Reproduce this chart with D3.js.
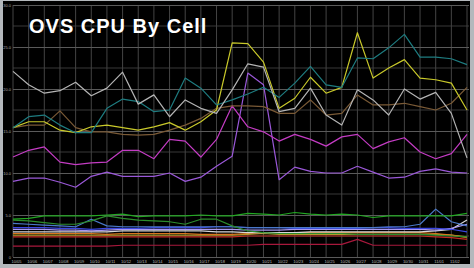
<!DOCTYPE html>
<html>
<head>
<meta charset="utf-8">
<script src="https://cdn.jsdelivr.net/npm/d3@7"></script>
<style>
  html, body { margin: 0; padding: 0; background: #b4b8bc; }
  #chart { width: 474px; height: 268px; }
  text { font-family: 'Liberation Sans', Arial, sans-serif; }
</style>
</head>
<body>
<div id="chart"></div>
<script>
// tick labels along the bottom (one per sample)
const dates = ['10/05', '10/06', '10/07', '10/08', '10/09', '10/10', '10/11', '10/12',
  '10/13', '10/14', '10/15', '10/16', '10/17', '10/18', '10/19', '10/20', '10/21',
  '10/22', '10/23', '10/24', '10/25', '10/26', '10/27', '10/28', '10/29', '10/30',
  '10/31', '11/01', '11/02', '11/03']
const yTicks = [0, 5, 10, 15, 20, 25, 30]

// cells (CPU %)
const gray = [22.1, 20.5, 19.5, 19.8, 20.8, 19.2, 20.1, 22.0, 18.2, 19.3, 16.7, 18.7, 17.7, 17.1, 19.9,
  23.0, 22.6, 17.3, 17.7, 20.1, 16.9, 15.7, 19.9, 18.7, 16.9, 20.0, 18.8, 19.6, 17.1, 11.8]
const teal = [15.4, 16.7, 16.9, 15.7, 14.8, 14.8, 17.7, 18.8, 18.5, 17.3, 17.5, 21.3, 20.1, 18.1, 18.7,
  19.4, 20.2, 19.0, 20.7, 22.7, 20.5, 20.2, 23.7, 23.6, 24.9, 26.5, 23.8, 23.8, 23.6, 22.9]
const yellow = [15.4, 16.1, 16.1, 15.1, 14.8, 15.5, 15.7, 15.4, 15.1, 15.5, 16.0, 15.1, 16.1, 17.5, 25.5,
  25.4, 23.2, 17.7, 18.9, 21.4, 19.5, 20.2, 26.7, 21.3, 22.5, 23.5, 21.3, 21.1, 20.7, 17.5]
const brown = [15.4, 15.7, 15.7, 17.4, 15.4, 14.9, 14.9, 14.6, 14.5, 14.6, 15.1, 15.7, 16.5, 17.7, 18.0,
  18.0, 17.9, 17.1, 17.1, 18.7, 16.9, 17.1, 19.3, 18.1, 18.1, 18.3, 17.9, 17.5, 18.3, 20.2]
const magenta = [11.9, 12.7, 13.1, 11.3, 11.0, 11.2, 11.3, 12.7, 12.7, 11.7, 14.0, 13.8, 11.9, 14.0, 18.0,
  15.5, 14.9, 13.8, 14.6, 14.0, 13.2, 14.3, 14.6, 12.9, 13.7, 14.2, 12.5, 11.7, 12.3, 14.6]
const purple = [9.0, 9.4, 9.4, 8.9, 8.3, 9.6, 10.1, 9.6, 9.6, 9.6, 10.0, 9.0, 9.5, 10.8, 12.0,
  21.9, 20.5, 9.2, 10.7, 10.2, 10.0, 10.0, 10.8, 10.1, 9.4, 9.5, 10.2, 10.5, 10.1, 10.0]
const green = [4.5, 4.6, 4.9, 4.9, 4.9, 4.9, 5.0, 5.1, 4.8, 4.9, 4.9, 4.9, 5.0, 4.9, 4.9,
  5.2, 5.1, 5.0, 5.3, 5.1, 5.0, 5.1, 5.0, 4.7, 4.9, 4.9, 4.9, 4.9, 4.9, 5.2]
const darkGreen = [4.4, 4.3, 4.1, 3.9, 3.9, 4.3, 4.9, 4.6, 4.4, 4.3, 4.2, 3.9, 4.5, 4.5, 3.7,
  3.1, 2.9, 2.8, 2.8, 2.8, 2.8, 2.8, 2.7, 2.7, 2.7, 2.7, 2.7, 2.6, 2.5, 2.4]
const steel = [4.0, 3.9, 3.8, 3.7, 3.6, 4.5, 3.7, 3.6, 3.6, 3.6, 3.6, 3.6, 3.6, 3.6, 3.6,
  3.5, 3.5, 3.5, 3.5, 3.5, 3.5, 3.5, 3.5, 3.5, 3.6, 3.6, 3.9, 5.7, 4.2, 3.7]
const blue = [3.5, 3.5, 3.5, 3.4, 3.4, 3.3, 3.4, 3.4, 3.4, 3.5, 3.5, 3.5, 3.5, 3.6, 3.6,
  3.5, 3.5, 3.5, 3.4, 3.4, 3.4, 3.4, 3.4, 3.5, 3.5, 3.4, 3.4, 3.4, 3.3, 3.0]
const lavender = [3.3, 3.3, 3.3, 3.2, 3.2, 3.1, 3.2, 3.3, 3.3, 3.3, 3.3, 3.3, 3.3, 3.3, 3.3,
  3.2, 3.2, 3.2, 3.3, 3.3, 3.3, 3.3, 3.3, 3.3, 3.3, 3.3, 3.3, 3.2, 3.4, 3.9]
const white = [3.0, 3.0, 3.0, 3.0, 3.0, 3.0, 3.0, 3.1, 3.1, 3.1, 3.1, 3.1, 3.1, 3.0, 3.0,
  2.9, 2.9, 2.9, 2.9, 3.0, 3.0, 3.0, 3.0, 3.0, 3.0, 3.0, 3.0, 3.1, 3.3, 4.4]
const orange = [2.8, 2.8, 2.8, 2.8, 2.8, 2.8, 2.7, 2.8, 2.8, 2.8, 2.8, 2.8, 2.7, 2.7, 2.7,
  2.8, 2.9, 2.9, 2.9, 2.9, 2.9, 2.9, 2.9, 2.9, 2.9, 2.9, 2.9, 2.8, 2.6, 2.3]
const olive = [2.6, 2.6, 2.6, 2.6, 2.6, 2.6, 2.6, 2.6, 2.6, 2.6, 2.6, 2.6, 2.6, 2.6, 2.6,
  2.7, 2.8, 2.7, 2.7, 2.7, 2.7, 2.7, 2.7, 2.7, 2.7, 2.7, 2.7, 2.7, 2.6, 2.4]
const red = [2.4, 2.4, 2.4, 2.4, 2.4, 2.4, 2.4, 2.4, 2.4, 2.4, 2.4, 2.4, 2.4, 2.4, 2.4,
  2.5, 2.5, 2.5, 2.5, 2.5, 2.5, 2.5, 2.5, 2.5, 2.5, 2.5, 2.5, 2.4, 2.3, 2.1]
const crimson = [1.3, 1.3, 1.3, 1.3, 1.3, 1.3, 1.3, 1.4, 1.4, 1.4, 1.4, 1.4, 1.4, 1.4, 1.4,
  1.4, 1.5, 1.5, 1.5, 1.5, 1.5, 1.5, 2.1, 1.4, 1.4, 1.4, 1.4, 1.4, 1.4, 1.4]

const series = [
  { values: crimson, color: '#a8183c' },
  { values: red, color: '#c42a22' },
  { values: olive, color: '#b09a2a' },
  { values: orange, color: '#d9761e' },
  { values: white, color: '#d8d8d8' },
  { values: lavender, color: '#a898f0' },
  { values: blue, color: '#3a46e0' },
  { values: steel, color: '#4a78c8' },
  { values: darkGreen, color: '#2c8c2c' },
  { values: green, color: '#22a822' },
  { values: purple, color: '#9a58d8' },
  { values: magenta, color: '#c43cc4' },
  { values: brown, color: '#7a5a36' },
  { values: yellow, color: '#c8c82a' },
  { values: teal, color: '#1e7c80' },
  { values: gray, color: '#b4b4b4' }
]

const W = 474
const H = 268

const svg = d3.select('#chart')
  .append('svg')
  .attr('width', W)
  .attr('height', H)

// black screen inside the gray frame
svg.append('rect')
  .attr('x', 3).attr('y', 1)
  .attr('width', 467).attr('height', 263)
  .attr('fill', '#000')

const xScale = d3.scaleLinear().domain([0, dates.length - 1]).range([13, 467])
const yScale = d3.scaleLinear().domain([0, 30]).range([257, 5])

// minor horizontal grid every 2.5
svg.append('g')
  .selectAll('line')
  .data(d3.range(2.5, 30, 5))
  .enter()
  .append('line')
  .attr('x1', 13).attr('x2', 469)
  .attr('y1', d => yScale(d)).attr('y2', d => yScale(d))
  .attr('stroke', '#383838')
  .attr('stroke-width', 1)

// vertical grid
svg.append('g')
  .selectAll('line')
  .data(dates)
  .enter()
  .append('line')
  .attr('x1', (d, i) => xScale(i)).attr('x2', (d, i) => xScale(i))
  .attr('y1', 5).attr('y2', 257)
  .attr('stroke', '#444')
  .attr('stroke-width', 1)

// y axis with major grid
const yAxis = d3.axisLeft(yScale)
  .tickValues(yTicks)
  .tickSize(-456)
  .tickPadding(2)
  .tickFormat(d => d === 0 ? '0' : d3.format('.1f')(d))

svg.append('g')
  .attr('class', 'y-axis')
  .attr('transform', 'translate(13,0)')
  .call(yAxis)

svg.select('.y-axis .domain').remove()
svg.selectAll('.y-axis line').attr('stroke', '#5a5a5a')
svg.selectAll('.y-axis text')
  .attr('fill', '#aaa')
  .attr('font-size', '4px')

// x labels
const xAxis = d3.axisBottom(xScale)
  .tickValues(d3.range(dates.length - 1))
  .tickSize(0)
  .tickPadding(3)
  .tickFormat(i => dates[i])

svg.append('g')
  .attr('class', 'x-axis')
  .attr('transform', 'translate(3,257)')
  .call(xAxis)

svg.select('.x-axis .domain').remove()
svg.selectAll('.x-axis text')
  .attr('fill', '#bbb')
  .attr('font-size', '4px')

const line = d3.line()
  .x((d, i) => xScale(i))
  .y(d => yScale(d))

svg.append('g')
  .selectAll('path')
  .data(series)
  .enter()
  .append('path')
  .attr('d', d => line(d.values))
  .attr('fill', 'none')
  .attr('stroke', d => d.color)
  .attr('stroke-width', 1.2)
  .attr('stroke-linejoin', 'round')

svg.append('text')
  .text('OVS CPU By Cell')
  .attr('x', 29)
  .attr('y', 33)
  .attr('fill', '#fff')
  .attr('font-size', '20px')
  .attr('font-weight', 'bold')
  .attr('letter-spacing', '1px')
</script>
</body>
</html>
